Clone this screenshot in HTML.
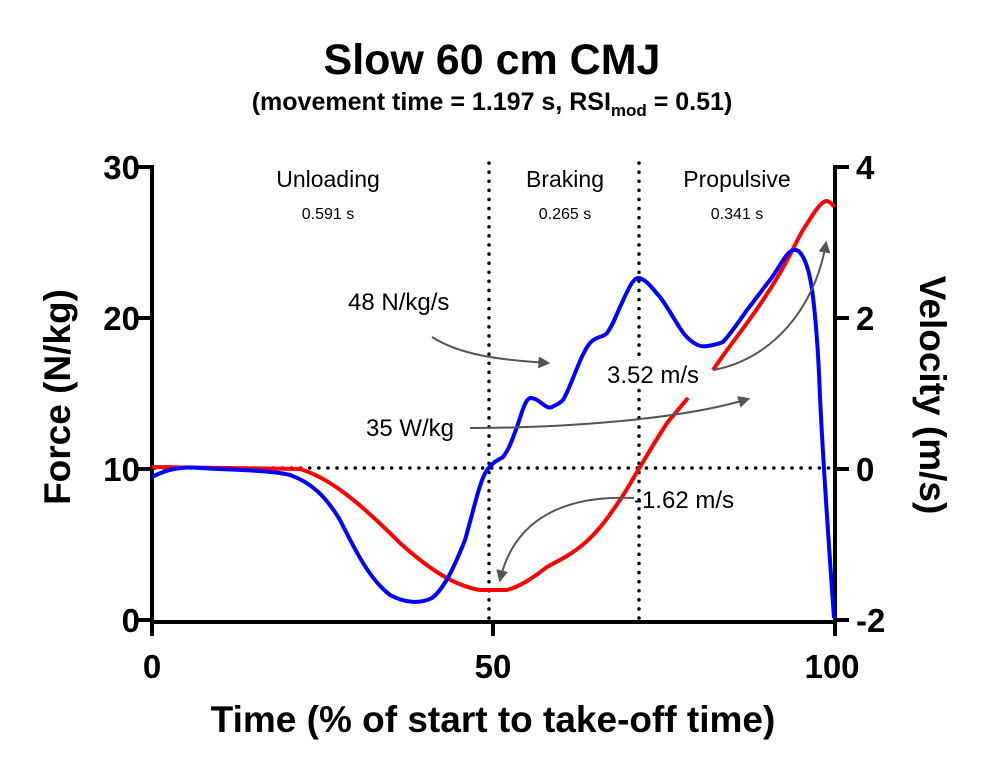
<!DOCTYPE html>
<html><head><style>body{margin:0;background:#fff}svg{display:block}</style></head><body>
<svg width="990" height="772" xmlns="http://www.w3.org/2000/svg" font-family="Liberation Sans, Arial, sans-serif">
<defs><marker id="ah" viewBox="0 0 10 10" refX="8" refY="5" markerWidth="6" markerHeight="6" orient="auto"><path d="M0,0L10,5L0,10z" fill="#555"/></marker></defs>
<text x="492" y="74" font-size="43" font-weight="bold" text-anchor="middle">Slow 60 cm CMJ</text>
<text x="492" y="110" font-size="25" font-weight="bold" text-anchor="middle">(movement time = 1.197 s, RSI<tspan font-size="17" dy="6">mod</tspan><tspan dy="-6"> = 0.51)</tspan></text>
<g stroke="#000" stroke-width="3.5" stroke-dasharray="0.1 9" stroke-linecap="round" fill="none">
<line x1="489" y1="163" x2="489" y2="620"/><line x1="639" y1="163" x2="639" y2="620"/>
<line x1="155" y1="468" x2="832" y2="468"/></g>
<g stroke="#000" stroke-width="4" fill="none">
<line x1="152" y1="165" x2="152" y2="622"/><line x1="835" y1="165" x2="835" y2="622"/>
<line x1="150" y1="622" x2="837" y2="622"/>
<line x1="138" y1="167" x2="152" y2="167"/><line x1="138" y1="318" x2="152" y2="318"/><line x1="138" y1="469" x2="152" y2="469"/><line x1="138" y1="620" x2="152" y2="620"/>
<line x1="835" y1="167" x2="849" y2="167"/><line x1="835" y1="318" x2="849" y2="318"/><line x1="835" y1="469" x2="849" y2="469"/><line x1="835" y1="620" x2="849" y2="620"/>
<line x1="152" y1="622" x2="152" y2="636"/><line x1="493" y1="622" x2="493" y2="636"/><line x1="835" y1="622" x2="835" y2="636"/>
</g>
<g font-size="33" font-weight="bold">
<text x="140" y="179" text-anchor="end">30</text><text x="140" y="330" text-anchor="end">20</text><text x="140" y="481" text-anchor="end">10</text><text x="140" y="632" text-anchor="end">0</text>
<text x="856" y="179">4</text><text x="856" y="330">2</text><text x="856" y="481">0</text><text x="856" y="632">-2</text>
<text x="152" y="678" text-anchor="middle">0</text><text x="493" y="678" text-anchor="middle">50</text><text x="832" y="678" text-anchor="middle">100</text>
</g>
<text x="493" y="732" font-size="37" font-weight="bold" text-anchor="middle">Time (% of start to take-off time)</text>
<text transform="translate(70,397) rotate(-90)" font-size="37" font-weight="bold" text-anchor="middle">Force (N/kg)</text>
<text transform="translate(920,395) rotate(90)" font-size="37" font-weight="bold" text-anchor="middle">Velocity (m/s)</text>
<g font-size="23"><text x="328" y="187" text-anchor="middle">Unloading</text><text x="565" y="187" text-anchor="middle">Braking</text><text x="737" y="187" text-anchor="middle">Propulsive</text></g>
<g font-size="16"><text x="328" y="219" text-anchor="middle">0.591 s</text><text x="565" y="219" text-anchor="middle">0.265 s</text><text x="737" y="219" text-anchor="middle">0.341 s</text></g>
<path d="M152,467 L300,469 C330,478 360,503 400,543 C430,570 455,586 480,590 L507,590 C525,585 540,572 547,567 C560,560 570,555 580,547 C595,535 605,522 613,510 C625,494 632,480 640,467 C650,450 658,437 667,423 L688,398 M713,370 C725,352 737,337 747,323 C758,308 770,290 780,273 C790,256 797,240 803,230 C812,216 820,202 826,201 C830,201 833,205 834,207" stroke="#f00" stroke-width="4" fill="none"/>
<path d="M152,477 C165,470 180,466 200,468 C230,470 270,470 290,475 C310,482 325,495 340,520 C355,550 370,580 390,595 C405,603 420,604 432,598 C445,588 455,565 465,540 C475,505 480,480 487,470 C493,462 498,460 503,457 C510,448 513,437 517,427 C522,412 525,400 530,398 C540,398 545,410 552,407 C558,404 560,403 563,400 C572,385 580,355 590,343 C598,335 603,338 607,333 C613,325 615,318 620,307 C627,292 632,279 638,278 C645,278 652,288 660,297 C672,313 680,332 690,340 C697,346 702,347 707,346 C715,345 718,344 723,342 C732,332 740,320 747,310 C755,300 762,290 770,280 C778,270 786,252 793,250 C798,249 800,252 803,257 C808,266 811,280 813,297 C817,330 819,370 820,397 C824,480 830,560 834,618" stroke="#00f" stroke-width="4" fill="none"/>
<g stroke="#555" stroke-width="2" fill="none" marker-end="url(#ah)">
<path d="M432,337 C460,355 500,360 548,363"/>
<path d="M470,428 C560,428 680,420 748,399"/>
<path d="M634,498 C570,495 515,515 500,580"/>
<path d="M713,370 C770,360 815,310 826,243"/>
</g>
<rect x="604" y="358" width="106" height="30" fill="#fff"/>
<g font-size="24"><text x="348" y="310">48 N/kg/s</text><text x="366" y="436">35 W/kg</text><text x="607" y="383">3.52 m/s</text><text x="634" y="508">-1.62 m/s</text></g>
</svg>
</body></html>
